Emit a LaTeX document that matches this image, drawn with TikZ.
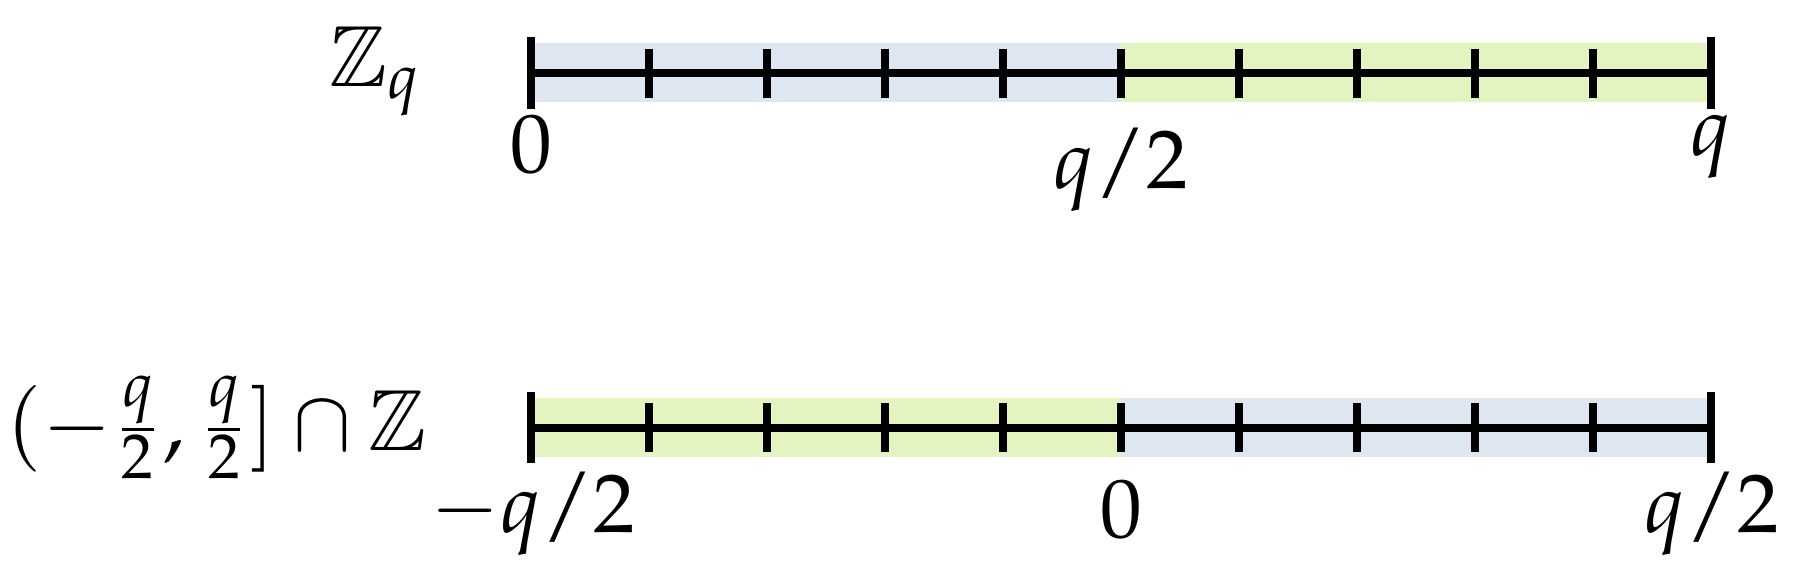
\documentclass[tikz,border=0pt]{standalone}
\usepackage{mathpazo}
\usepackage{amssymb}
\DeclareSymbolFontAlphabet{\amsbb}{AMSb}
\definecolor{bandblue}{RGB}{221,230,241}
\definecolor{bandgreen}{RGB}{227,244,193}
\tikzset{
  axisline/.style={line width=0.96pt},
  tickmark/.style={line width=0.96pt},
  lbl/.style={inner sep=0pt, anchor=base, font=\fontsize{10}{12}\selectfont},
}
\begin{document}
\begin{tikzpicture}[x=0.12pt,y=-0.12pt]
\useasboundingbox (0,0) rectangle (1800,576);
% ---- top number line: Z_q
\fill[bandblue]  (531,43) rectangle (1121,102);
\fill[bandgreen] (1121,43) rectangle (1711,102);
\draw[axisline] (531,73) -- (1711,73);
\foreach \i in {1,...,9} \draw[tickmark] ({531+118*\i},48.5) -- ({531+118*\i},97.5);
\draw[tickmark] (531,37) -- (531,109);
\draw[tickmark] (1711,37) -- (1711,109);
\node[lbl, anchor=base east] (zq) at (424,86) {$\amsbb{Z}_q$};
\node[lbl] (t0) at (531,172) {$0$};
\node[lbl] (tmid) at (1121,188) {$q/2$};
\node[lbl] (tq) at (1711,155) {$q$};
% ---- bottom number line: (-q/2,q/2] cap Z
\fill[bandgreen] (531,398) rectangle (1121,457);
\fill[bandblue]  (1121,398) rectangle (1711,457);
\draw[axisline] (531,427.5) -- (1711,427.5);
\foreach \i in {1,...,9} \draw[tickmark] ({531+118*\i},403) -- ({531+118*\i},452);
\draw[tickmark] (531,392) -- (531,463);
\draw[tickmark] (1711,392) -- (1711,463);
\node[lbl, anchor=base east] (zint) at (428,450) {$(-\frac{q}{2},\frac{q}{2}]\cap\amsbb{Z}$};
\node[lbl] (bneg) at (533,532) {$-q/2$};
\node[lbl] (b0) at (1121,537) {$0$};
\node[lbl] (bq) at (1712,532) {$q/2$};
\end{tikzpicture}
\end{document}
